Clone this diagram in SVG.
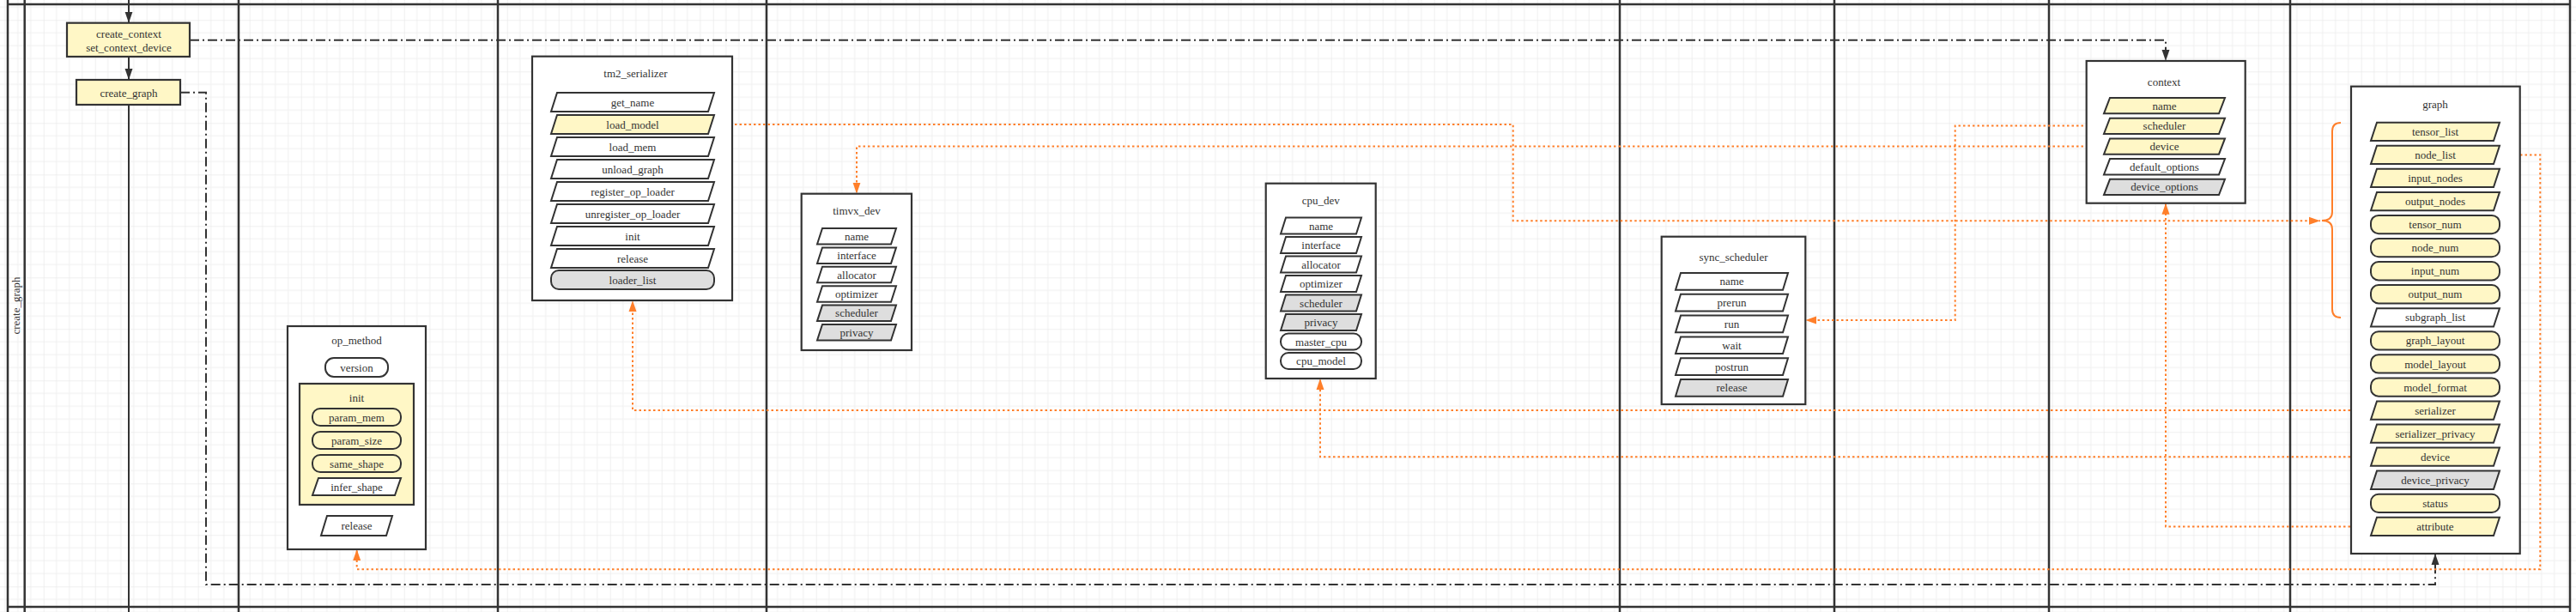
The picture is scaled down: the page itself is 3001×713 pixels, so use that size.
<svg xmlns="http://www.w3.org/2000/svg" width="3001" height="713" viewBox="0 0 3001 713">
<style>
text{font-family:"Liberation Serif","Times New Roman",serif;font-size:13px;fill:#333;text-anchor:middle}
.box{fill:#fff;stroke:#333;stroke-width:2.2}
.ybox{fill:#fff7c6;stroke:#333;stroke-width:2.2}
.w{fill:#fff;stroke:#333;stroke-width:2}
.y{fill:#fff7c6;stroke:#333;stroke-width:2}
.g{fill:#dedede;stroke:#333;stroke-width:2}
.lane{stroke:#333;stroke-width:2.5;fill:none}
.solid{stroke:#333;stroke-width:2;fill:none}
.dd{stroke:#333;stroke-width:2;fill:none;stroke-dasharray:11 4 2 4}
.or{stroke:#ff7f2a;stroke-width:2;fill:none;stroke-dasharray:2.5 3}
.brace{stroke:#ff7f2a;stroke-width:2;fill:none}
</style>
<defs>
<pattern id="grid" patternUnits="userSpaceOnUse" x="50.7" y="23.3" width="60" height="60">
<path d="M15,0V60M30,0V60M45,0V60M0,15H60M0,30H60M0,45H60" stroke="#efefef" stroke-width="1" fill="none"/>
<path d="M0,0V60M0,0H60" stroke="#e2e2e2" stroke-width="1" fill="none"/>
</pattern>
<marker id="ab" markerUnits="userSpaceOnUse" markerWidth="13" markerHeight="10" refX="13" refY="5" orient="auto"><path d="M0,0.5L13,5L0,9.5z" fill="#333"/></marker>
<marker id="ao" markerUnits="userSpaceOnUse" markerWidth="13" markerHeight="10" refX="13" refY="5" orient="auto"><path d="M0,0.5L13,5L0,9.5z" fill="#ff7f2a"/></marker>
</defs>
<rect width="3001" height="713" fill="#fff"/>
<rect width="3001" height="713" fill="url(#grid)"/>

<g id="lanes">
<path class="lane" d="M9,0V713M28.7,0V713M278,0V713M580,0V713M893,0V713M1887,0V713M2137,0V713M2387,0V713M2668,0V713M2994,0V713"/>
<path class="lane" d="M9,5H2994M9,707H2994"/>
<text transform="translate(23,356) rotate(-90)">create_graph</text>
</g>

<g id="connectors">
<path class="solid" d="M150,0V26.7" marker-end="url(#ab)"/>
<path class="solid" d="M150,66V93" marker-end="url(#ab)"/>
<path class="solid" d="M150,122V713"/>
<path class="dd" d="M221,46.7H2523V71" marker-end="url(#ab)"/>
<path class="dd" d="M210,107.7H240V681H2837V645" marker-end="url(#ab)"/>
<path class="or" d="M828.5,145H1762.7V257.3H2703" marker-end="url(#ao)"/>
<path class="or" d="M2454.5,170.5H998V225.7" marker-end="url(#ao)"/>
<path class="or" d="M2454.5,146.5H2277.7V373H2103.3" marker-end="url(#ao)"/>
<path class="or" d="M2765.5,478.1H737V350" marker-end="url(#ao)"/>
<path class="or" d="M2765.5,532.2H1538V441" marker-end="url(#ao)"/>
<path class="or" d="M2765.5,613.4H2523V236.7" marker-end="url(#ao)"/>
<path class="or" d="M2908.5,180.4H2959.3V663.3H415.7V640" marker-end="url(#ao)"/>
<path class="brace" d="M2727,143Q2717,143 2717,153V247Q2717,257 2705,257Q2717,257 2717,267V360Q2717,370 2727,370"/>
</g>

<g id="create_context">
<rect class="ybox" x="78" y="26.7" width="143" height="39.3"/>
<text x="150" y="44">create_context</text>
<text x="150" y="59.5">set_context_device</text>
</g>

<g id="create_graph">
<rect class="ybox" x="89" y="93" width="121" height="29"/>
<text x="150" y="112.5">create_graph</text>
</g>

<g id="op_method">
<rect class="box" x="335" y="380" width="161" height="260"/>
<text x="415.5" y="401">op_method</text>
<rect class="w" x="379" y="417" width="73" height="22" rx="10"/>
<text x="415.5" y="432.5">version</text>
<rect class="ybox" x="349" y="447" width="133" height="141"/>
<text x="415.5" y="467.5">init</text>
<rect class="y" x="364" y="476" width="103" height="20" rx="9"/>
<text x="415.5" y="490.5">param_mem</text>
<rect class="y" x="364" y="503" width="103" height="20" rx="9"/>
<text x="415.5" y="517.5">param_size</text>
<rect class="y" x="364" y="530" width="103" height="20" rx="9"/>
<text x="415.5" y="544.5">same_shape</text>
<polygon class="w" points="371,557 467,557 460,577 364,577"/>
<text x="415.5" y="571.5">infer_shape</text>
<polygon class="w" points="381,601 457,601 450,624 374,624"/>
<text x="415.5" y="617">release</text>
</g>

<g id="tm2_serializer">
<rect class="box" x="620" y="65.7" width="233" height="284.3"/>
<text x="740.5" y="90">tm2_serializer</text>
<polygon class="w" points="649,108 832,108 825,130 642,130"/>
<text x="737" y="123.5">get_name</text>
<polygon class="y" points="649,134 832,134 825,156 642,156"/>
<text x="737" y="149.5">load_model</text>
<polygon class="w" points="649,160 832,160 825,182 642,182"/>
<text x="737" y="175.5">load_mem</text>
<polygon class="w" points="649,186 832,186 825,208 642,208"/>
<text x="737" y="201.5">unload_graph</text>
<polygon class="w" points="649,212 832,212 825,234 642,234"/>
<text x="737" y="227.5">register_op_loader</text>
<polygon class="w" points="649,238 832,238 825,260 642,260"/>
<text x="737" y="253.5">unregister_op_loader</text>
<polygon class="w" points="649,264 832,264 825,286 642,286"/>
<text x="737" y="279.5">init</text>
<polygon class="w" points="649,290 832,290 825,312 642,312"/>
<text x="737" y="305.5">release</text>
<rect class="g" x="642" y="315" width="190" height="22" rx="9"/>
<text x="737" y="330.5">loader_list</text>
</g>

<g id="timvx_dev">
<rect class="box" x="933.7" y="225.7" width="128.3" height="182.3"/>
<text x="998" y="249.5">timvx_dev</text>
<polygon class="w" points="958,266 1044,266 1038,284.5 952,284.5"/>
<text x="998" y="279.7">name</text>
<polygon class="w" points="958,288.4 1044,288.4 1038,306.9 952,306.9"/>
<text x="998" y="302.1">interface</text>
<polygon class="w" points="958,310.8 1044,310.8 1038,329.3 952,329.3"/>
<text x="998" y="324.5">allocator</text>
<polygon class="w" points="958,333.2 1044,333.2 1038,351.7 952,351.7"/>
<text x="998" y="346.9">optimizer</text>
<polygon class="g" points="958,355.6 1044,355.6 1038,374.1 952,374.1"/>
<text x="998" y="369.3">scheduler</text>
<polygon class="g" points="958,378 1044,378 1038,396.5 952,396.5"/>
<text x="998" y="391.7">privacy</text>
</g>

<g id="cpu_dev">
<rect class="box" x="1474.7" y="213.7" width="128" height="227.3"/>
<text x="1538.7" y="237.8">cpu_dev</text>
<polygon class="w" points="1498,253.5 1586,253.5 1580,272.5 1492,272.5"/>
<text x="1539" y="267.5">name</text>
<polygon class="w" points="1498,276 1586,276 1580,295 1492,295"/>
<text x="1539" y="290">interface</text>
<polygon class="w" points="1498,298.5 1586,298.5 1580,317.5 1492,317.5"/>
<text x="1539" y="312.5">allocator</text>
<polygon class="w" points="1498,321 1586,321 1580,340 1492,340"/>
<text x="1539" y="335">optimizer</text>
<polygon class="g" points="1498,343.5 1586,343.5 1580,362.5 1492,362.5"/>
<text x="1539" y="357.5">scheduler</text>
<polygon class="g" points="1498,366 1586,366 1580,385 1492,385"/>
<text x="1539" y="380">privacy</text>
<rect class="w" x="1492" y="388.5" width="94" height="19" rx="9"/>
<text x="1539" y="402.5">master_cpu</text>
<rect class="w" x="1492" y="411" width="94" height="19" rx="9"/>
<text x="1539" y="425">cpu_model</text>
</g>

<g id="sync_scheduler">
<rect class="box" x="1935.7" y="275.7" width="167.6" height="195.3"/>
<text x="2019.5" y="303.8">sync_scheduler</text>
<polygon class="w" points="1958,318 2083,318 2077,337.7 1952,337.7"/>
<text x="2017.5" y="332.3">name</text>
<polygon class="w" points="1958,342.8 2083,342.8 2077,362.5 1952,362.5"/>
<text x="2017.5" y="357.1">prerun</text>
<polygon class="w" points="1958,367.6 2083,367.6 2077,387.3 1952,387.3"/>
<text x="2017.5" y="381.9">run</text>
<polygon class="w" points="1958,392.4 2083,392.4 2077,412.1 1952,412.1"/>
<text x="2017.5" y="406.7">wait</text>
<polygon class="w" points="1958,417.2 2083,417.2 2077,436.9 1952,436.9"/>
<text x="2017.5" y="431.5">postrun</text>
<polygon class="g" points="1958,442 2083,442 2077,461.7 1952,461.7"/>
<text x="2017.5" y="456.3">release</text>
</g>

<g id="context">
<rect class="box" x="2430.7" y="71" width="185" height="165.7"/>
<text x="2521" y="99.5">context</text>
<polygon class="y" points="2458,114 2592,114 2585,132.3 2451,132.3"/>
<text x="2521.5" y="127.6">name</text>
<polygon class="y" points="2458,137.7 2592,137.7 2585,156 2451,156"/>
<text x="2521.5" y="151.3">scheduler</text>
<polygon class="y" points="2458,161.4 2592,161.4 2585,179.7 2451,179.7"/>
<text x="2521.5" y="175">device</text>
<polygon class="w" points="2458,185.1 2592,185.1 2585,203.4 2451,203.4"/>
<text x="2521.5" y="198.7">default_options</text>
<polygon class="g" points="2458,208.8 2592,208.8 2585,227.1 2451,227.1"/>
<text x="2521.5" y="222.4">device_options</text>
</g>

<g id="graph">
<rect class="box" x="2739" y="100.7" width="196.7" height="544.3"/>
<text x="2837" y="125.5">graph</text>
<polygon class="y" points="2769,142.7 2912,142.7 2905,164 2762,164"/>
<text x="2837" y="157.9">tensor_list</text>
<polygon class="y" points="2769,169.8 2912,169.8 2905,191.1 2762,191.1"/>
<text x="2837" y="185">node_list</text>
<polygon class="y" points="2769,196.8 2912,196.8 2905,218.1 2762,218.1"/>
<text x="2837" y="212">input_nodes</text>
<polygon class="y" points="2769,223.9 2912,223.9 2905,245.2 2762,245.2"/>
<text x="2837" y="239.1">output_nodes</text>
<rect class="y" x="2762" y="250.9" width="150" height="21.3" rx="9"/>
<text x="2837" y="266.1">tensor_num</text>
<rect class="y" x="2762" y="278" width="150" height="21.3" rx="9"/>
<text x="2837" y="293.2">node_num</text>
<rect class="y" x="2762" y="305.1" width="150" height="21.3" rx="9"/>
<text x="2837" y="320.3">input_num</text>
<rect class="y" x="2762" y="332.1" width="150" height="21.3" rx="9"/>
<text x="2837" y="347.3">output_num</text>
<polygon class="w" points="2769,359.2 2912,359.2 2905,380.5 2762,380.5"/>
<text x="2837" y="374.4">subgraph_list</text>
<rect class="y" x="2762" y="386.2" width="150" height="21.3" rx="9"/>
<text x="2837" y="401.4">graph_layout</text>
<rect class="y" x="2762" y="413.3" width="150" height="21.3" rx="9"/>
<text x="2837" y="428.5">model_layout</text>
<rect class="y" x="2762" y="440.4" width="150" height="21.3" rx="9"/>
<text x="2837" y="455.6">model_format</text>
<polygon class="y" points="2769,467.4 2912,467.4 2905,488.7 2762,488.7"/>
<text x="2837" y="482.6">serializer</text>
<polygon class="y" points="2769,494.5 2912,494.5 2905,515.8 2762,515.8"/>
<text x="2837" y="509.7">serializer_privacy</text>
<polygon class="y" points="2769,521.5 2912,521.5 2905,542.8 2762,542.8"/>
<text x="2837" y="536.7">device</text>
<polygon class="g" points="2769,548.6 2912,548.6 2905,569.9 2762,569.9"/>
<text x="2837" y="563.8">device_privacy</text>
<rect class="y" x="2762" y="575.7" width="150" height="21.3" rx="9"/>
<text x="2837" y="590.9">status</text>
<polygon class="y" points="2769,602.7 2912,602.7 2905,624 2762,624"/>
<text x="2837" y="617.9">attribute</text>
</g>
</svg>
